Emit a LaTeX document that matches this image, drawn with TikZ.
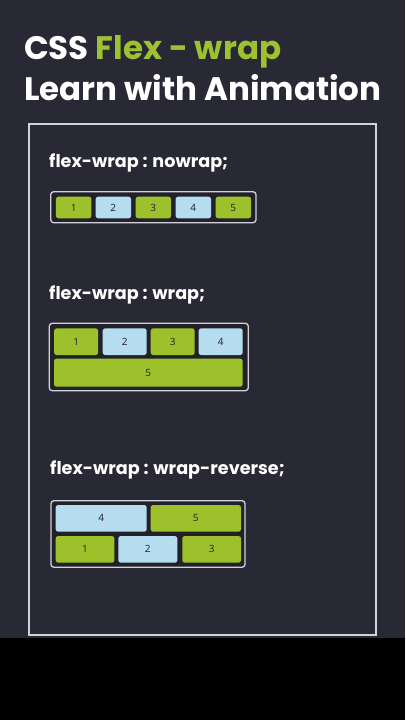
\documentclass[tikz,border=0pt]{standalone}
\usepackage{fontspec}
\setmainfont{Poppins}
\newfontfamily\numfont{Noto Sans}
\definecolor{bg}{HTML}{292835}
\definecolor{inner}{HTML}{222129}
\definecolor{tgreen}{HTML}{9CC232}
\definecolor{bgreen}{HTML}{9DC12B}
\definecolor{bblue}{HTML}{B5DCEF}
\definecolor{edge}{HTML}{D2D2DA}
\definecolor{numc}{HTML}{2A2A36}
\tikzset{
  frame/.style={draw=edge, line width=1.5pt},
  holder/.style={draw=edge, line width=1.3pt, fill=inner, rounded corners=3pt, inner sep=0pt},
  item/.style={rounded corners=2.5pt, inner sep=0pt, text=numc, font=\numfont\fontsize{10}{10}\selectfont},
  gbox/.style={item, fill=bgreen},
  lbox/.style={item, fill=bblue},
  title/.style={anchor=base west, text=white, inner sep=0pt, font=\bfseries\fontsize{32.5}{33}\selectfont},
  label/.style={anchor=base west, text=white, inner sep=0pt, font=\bfseries\fontsize{17.6}{18}\selectfont},
}
\begin{document}
\begin{tikzpicture}[x=1pt,y=-1pt]
\fill[bg] (0,0) rectangle (405,638);
\fill[black] (0,638) rectangle (405,720);
\useasboundingbox (0,0) rectangle (405,720);
% titles
\node[title] (t1) at (24,59) {CSS {\color{tgreen}Flex - wrap}};
\node[title] (t2) at (24,100) {Learn with Animation};
% frame
\node[frame, minimum width=347pt, minimum height=511pt, inner sep=0pt] (fr) at (202.5,379.5) {};
% section 1
\node[label] (l1) at (49,167.5) {flex-wrap : nowrap;};
\node[holder, minimum width=205.3pt, minimum height=31pt] (c1) at (153.35,207.2) {};
\node[gbox, minimum width=35.5pt, minimum height=21.6pt] (a1) at (73.7,207.5) {1};
\node[lbox, minimum width=35.5pt, minimum height=21.6pt] (a2) at (113.35,207.5) {2};
\node[gbox, minimum width=35.5pt, minimum height=21.6pt] (a3) at (153.35,207.5) {3};
\node[lbox, minimum width=35.5pt, minimum height=21.6pt] (a4) at (193.35,207.5) {4};
\node[gbox, minimum width=35.5pt, minimum height=21.6pt] (a5) at (233.35,207.5) {5};
% section 2
\node[label] (l2) at (49,299.3) {flex-wrap : wrap;};
\node[holder, minimum width=199pt, minimum height=67.4pt] (c2) at (148.8,357) {};
\node[gbox, minimum width=44pt, minimum height=26.7pt] (b1) at (76.15,341.7) {1};
\node[lbox, minimum width=44pt, minimum height=26.7pt] (b2) at (124.7,341.7) {2};
\node[gbox, minimum width=44pt, minimum height=26.7pt] (b3) at (172.7,341.7) {3};
\node[lbox, minimum width=44pt, minimum height=26.7pt] (b4) at (220.7,341.7) {4};
\node[gbox, minimum width=188.7pt, minimum height=28pt] (b5) at (148.35,372.7) {5};
% section 3
\node[label] (l3) at (50,474.3) {flex-wrap : wrap-reverse;};
\node[holder, minimum width=194pt, minimum height=66.6pt] (c3) at (148,534) {};
\node[lbox, minimum width=91pt, minimum height=26.7pt] (r4) at (101.2,518.35) {4};
\node[gbox, minimum width=90.3pt, minimum height=26.7pt] (r5) at (195.85,518.35) {5};
\node[gbox, minimum width=58.6pt, minimum height=26.7pt] (r1) at (85,549.35) {1};
\node[lbox, minimum width=59pt, minimum height=26.7pt] (r2) at (147.8,549.35) {2};
\node[gbox, minimum width=58.7pt, minimum height=26.7pt] (r3) at (211.65,549.35) {3};
\end{tikzpicture}
\end{document}
